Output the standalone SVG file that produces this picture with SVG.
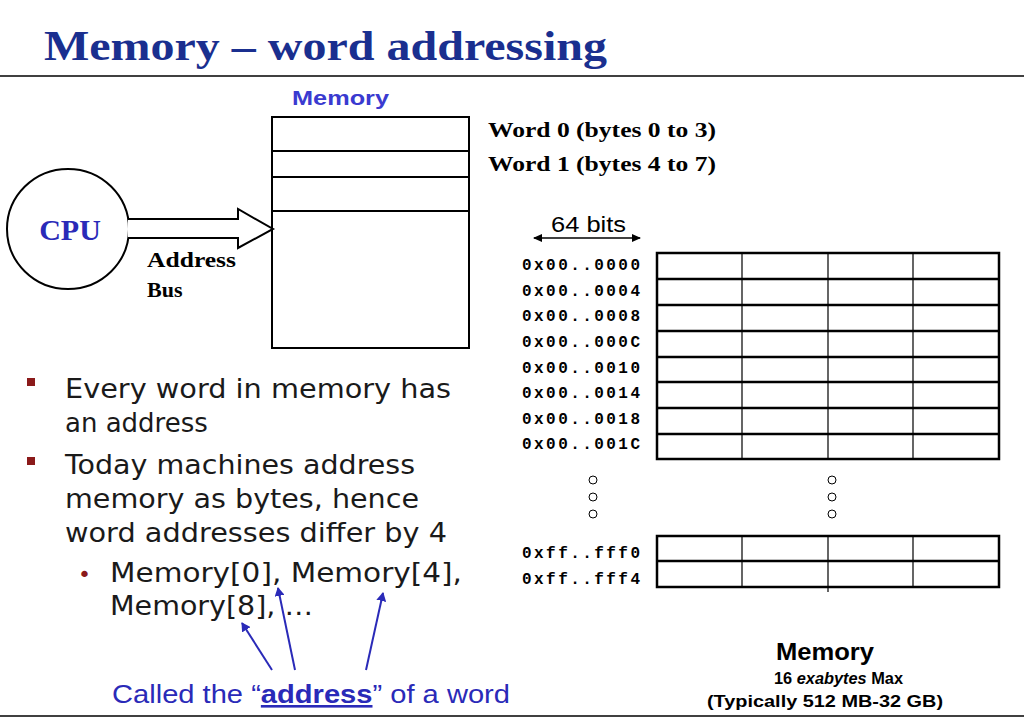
<svg xmlns="http://www.w3.org/2000/svg" width="1024" height="725" viewBox="0 0 1024 725">
<style>
.t{font-family:"Liberation Serif",serif;font-weight:bold}
.s{font-family:"Liberation Sans",sans-serif}
.u{font-family:"DejaVu Sans",sans-serif}
.m{font-family:"Liberation Mono",monospace;font-weight:bold;font-size:16px}
.g{fill:none;stroke:#000;stroke-width:2.5}
.v{stroke:#000;stroke-width:1.2}
.d{fill:none;stroke:#000;stroke-width:1}
.b{fill:none;stroke:#2a2ab8;stroke-width:2}
</style>
<defs>
<marker id="ba" markerWidth="10" markerHeight="10" refX="8" refY="5" orient="auto" markerUnits="userSpaceOnUse"><path d="M0,0 L9,5 L0,10 Z" fill="#2a2ab8"/></marker>
<marker id="ka" markerWidth="10" markerHeight="10" refX="8" refY="5" orient="auto-start-reverse" markerUnits="userSpaceOnUse"><path d="M0,1 L9,5 L0,9 Z" fill="#000"/></marker>
</defs>
<rect width="1024" height="725" fill="#fff"/>
<text x="44" y="60" class="t" font-size="42" fill="#1a2f8f" textLength="563" lengthAdjust="spacingAndGlyphs">Memory – word addressing</text>
<line x1="0" y1="76" x2="1024" y2="76" stroke="#000" stroke-width="1.5"/>
<line x1="0" y1="716" x2="1024" y2="716" stroke="#000" stroke-width="1.5"/>
<g id="cpu"><ellipse cx="68" cy="229" rx="61" ry="60" fill="#fff" stroke="#000" stroke-width="2"/><text x="70" y="240" class="t" font-size="30" fill="#2a2ab8" text-anchor="middle">CPU</text></g>
<g id="memory">
<text x="292" y="105" class="s" font-weight="bold" font-size="21" fill="#3a3ad0" textLength="97" lengthAdjust="spacingAndGlyphs">Memory</text>
<rect x="272" y="117" width="197" height="231" fill="#fff" stroke="#000" stroke-width="2"/>
<line x1="272" y1="151" x2="469" y2="151" stroke="#000" stroke-width="2"/>
<line x1="272" y1="177" x2="469" y2="177" stroke="#000" stroke-width="2"/>
<line x1="272" y1="211" x2="469" y2="211" stroke="#000" stroke-width="2"/>
<text x="488" y="137" class="t" font-size="22" textLength="228" lengthAdjust="spacingAndGlyphs">Word 0 (bytes 0 to 3)</text>
<text x="488" y="171" class="t" font-size="22" textLength="228" lengthAdjust="spacingAndGlyphs">Word 1 (bytes 4 to 7)</text>
</g>
<g id="connectors">
<path d="M128,219 L238,219 L238,209 L273,229 L238,248 L238,238 L128,238" fill="#fff" stroke="#000" stroke-width="2"/>
<line x1="534" y1="238" x2="640" y2="238" stroke="#000" stroke-width="1.5" marker-start="url(#ka)" marker-end="url(#ka)"/>
<line x1="272" y1="670" x2="242" y2="623" class="b" marker-end="url(#ba)"/>
<line x1="295" y1="670" x2="278" y2="588" class="b" marker-end="url(#ba)"/>
<line x1="366" y1="670" x2="383" y2="593" class="b" marker-end="url(#ba)"/>
</g>
<text x="147" y="267" class="t" font-size="22" textLength="89" lengthAdjust="spacingAndGlyphs">Address</text>
<text x="147" y="297" class="t" font-size="22">Bus</text>
<text x="551" y="232" class="s" font-size="22" textLength="75" lengthAdjust="spacingAndGlyphs">64 bits</text>
<g id="grid">
<g class="m">
<text x="522" y="270" textLength="118">0x00..0000</text><text x="522" y="296" textLength="118">0x00..0004</text><text x="522" y="321" textLength="118">0x00..0008</text><text x="522" y="347" textLength="118">0x00..000C</text><text x="522" y="373" textLength="118">0x00..0010</text><text x="522" y="398" textLength="118">0x00..0014</text><text x="522" y="424" textLength="118">0x00..0018</text><text x="522" y="449" textLength="118">0x00..001C</text>
<text x="522" y="558" textLength="118">0xff..fff0</text><text x="522" y="584" textLength="118">0xff..fff4</text>
</g>
<rect x="657" y="253" width="342" height="206" class="g"/>
<path d="M657,279H999M657,305H999M657,331H999M657,357H999M657,382H999M657,408H999M657,434H999" class="g"/>
<path d="M742,253V459M828,253V459M913,253V459" class="v"/>
<rect x="657" y="536" width="342" height="51" class="g"/>
<path d="M657,561H999" class="g"/>
<path d="M742,536V587M828,536V592M913,536V587" class="v"/>
<circle cx="593" cy="480" r="4" class="d"/><circle cx="593" cy="497" r="4" class="d"/><circle cx="593" cy="514" r="4" class="d"/>
<circle cx="832" cy="480" r="4" class="d"/><circle cx="832" cy="497" r="4" class="d"/><circle cx="832" cy="514" r="4" class="d"/>
</g>
<text x="776" y="660" class="s" font-weight="bold" font-size="23" textLength="98" lengthAdjust="spacingAndGlyphs">Memory</text>
<text x="774" y="684" class="s" font-weight="bold" font-size="17" textLength="129" lengthAdjust="spacingAndGlyphs">16 <tspan font-style="italic">exabytes</tspan> Max</text>
<text x="707" y="707" class="s" font-weight="bold" font-size="17" textLength="236" lengthAdjust="spacingAndGlyphs">(Typically 512 MB-32 GB)</text>
<g class="u" font-size="26" fill="#1a1a1a">
<rect x="27" y="378" width="8" height="8" fill="#8b1a1a"/>
<text x="65" y="398" textLength="386" lengthAdjust="spacingAndGlyphs">Every word in memory has</text>
<text x="65" y="432">an address</text>
<rect x="27" y="457" width="8" height="8" fill="#8b1a1a"/>
<text x="65" y="474" textLength="350" lengthAdjust="spacingAndGlyphs">Today machines address</text>
<text x="65" y="508" textLength="354" lengthAdjust="spacingAndGlyphs">memory as bytes, hence</text>
<text x="65" y="542" textLength="382" lengthAdjust="spacingAndGlyphs">word addresses differ by 4</text>
<text x="78" y="582" font-size="22" fill="#8b1a1a">•</text>
<text x="110" y="582" textLength="352" lengthAdjust="spacingAndGlyphs">Memory[0], Memory[4],</text>
<text x="110" y="615" textLength="203" lengthAdjust="spacingAndGlyphs">Memory[8], …</text>
</g>
<text x="112" y="703" class="s" font-size="26" fill="#2a2ab8" textLength="398" lengthAdjust="spacingAndGlyphs">Called the “<tspan font-weight="bold" text-decoration="underline">address</tspan>” of a word</text>
</svg>
